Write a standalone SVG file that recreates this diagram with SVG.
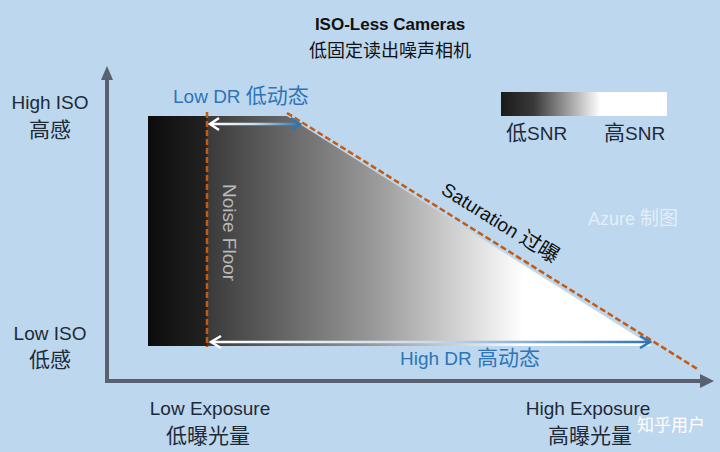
<svg xmlns="http://www.w3.org/2000/svg" width="720" height="452" viewBox="0 0 720 452">
<defs>
<style>
text{font-family:"Liberation Sans","Noto Sans CJK SC",sans-serif;}
.lbl{font-size:19px;fill:#1e2a38;}
.blue{font-size:19px;fill:#2e75b6;}
.cjk{font-size:21px;}
.axis{stroke:#596170;stroke-width:4;fill:none;}
.dash{stroke:#c55a11;stroke-width:2.5;stroke-dasharray:6 3;fill:none;}
</style>
<linearGradient id="gMain" gradientUnits="userSpaceOnUse" x1="148" y1="0" x2="655" y2="0">
<stop offset="0" stop-color="#0c0c0c"/>
<stop offset="0.115" stop-color="#222"/>
<stop offset="0.118" stop-color="#3a3a3a"/>
<stop offset="0.45" stop-color="#9a9a9a"/>
<stop offset="0.74" stop-color="#ffffff"/>
<stop offset="1" stop-color="#ffffff"/>
</linearGradient>
<linearGradient id="gLegend" x1="0" y1="0" x2="1" y2="0">
<stop offset="0" stop-color="#1a1a1a"/>
<stop offset="0.2" stop-color="#3a3a3a"/>
<stop offset="0.6" stop-color="#ffffff"/>
<stop offset="1" stop-color="#ffffff"/>
</linearGradient>
<linearGradient id="gArrow1" gradientUnits="userSpaceOnUse" x1="210" y1="0" x2="300" y2="0">
<stop offset="0" stop-color="#ffffff"/>
<stop offset="0.5" stop-color="#c8dcef"/>
<stop offset="1" stop-color="#2e75b6"/>
</linearGradient>
<linearGradient id="gArrow2" gradientUnits="userSpaceOnUse" x1="211" y1="0" x2="650" y2="0">
<stop offset="0" stop-color="#ffffff"/>
<stop offset="0.5" stop-color="#c8dcef"/>
<stop offset="1" stop-color="#2e75b6"/>
</linearGradient>
</defs>
<rect width="720" height="452" fill="#bdd7ee"/>

<g id="title">
<text x="390" y="30" text-anchor="middle" style="font-size:17px;font-weight:bold;fill:#111;">ISO-Less Cameras</text>
<text x="390" y="57" text-anchor="middle" style="font-size:18px;fill:#111;">低固定读出噪声相机</text>
</g>

<g id="exposure-area">
<polygon points="148,116 287,116 652,346 148,346" fill="url(#gMain)"/>
</g>

<g id="legend">
<rect x="501" y="92" width="166" height="24" fill="url(#gLegend)"/>
<text x="506" y="140" class="lbl"><tspan class="cjk">低</tspan>SNR</text>
<text x="604" y="140" class="lbl"><tspan class="cjk">高</tspan>SNR</text>
</g>

<g id="connectors">
<path class="axis" d="M107,381 V76"/>
<path d="M101,80 L107,66 L113,80 z" fill="#596170"/>
<path class="axis" d="M105,381 H702"/>
<path d="M700,374 L714,381 L700,388 z" fill="#596170"/>
<line class="dash" x1="207" y1="112" x2="207" y2="347"/>
<line class="dash" x1="287" y1="113" x2="699" y2="370"/>
<g id="low-dr-arrow">
<line x1="210" y1="124" x2="300" y2="124" stroke="url(#gArrow1)" stroke-width="2.5"/>
<path d="M219,118 L210,124 L219,130" fill="none" stroke="#ffffff" stroke-width="2.5"/>
<path d="M291,118 L300,124 L291,130" fill="none" stroke="#2e75b6" stroke-width="2.5"/>
</g>
<g id="high-dr-arrow">
<line x1="211" y1="342" x2="650" y2="342" stroke="url(#gArrow2)" stroke-width="2.5"/>
<path d="M221,336 L211,342 L221,348" fill="none" stroke="#ffffff" stroke-width="2.5"/>
<path d="M640,336 L650,342 L640,348" fill="none" stroke="#2e75b6" stroke-width="2.5"/>
</g>
</g>

<g id="labels">
<text x="173" y="103" class="blue">Low DR <tspan class="cjk">低动态</tspan></text>
<text x="470" y="365" text-anchor="middle" class="blue">High DR <tspan class="cjk">高动态</tspan></text>
<text x="50" y="109" text-anchor="middle" class="lbl">High ISO</text>
<text x="50" y="137" text-anchor="middle" class="lbl cjk">高感</text>
<text x="50" y="340" text-anchor="middle" class="lbl">Low ISO</text>
<text x="50" y="367" text-anchor="middle" class="lbl cjk">低感</text>
<text x="210" y="415" text-anchor="middle" class="lbl">Low Exposure</text>
<text x="208" y="443" text-anchor="middle" class="lbl cjk">低曝光量</text>
<text x="588" y="415" text-anchor="middle" class="lbl">High Exposure</text>
<text x="590" y="443" text-anchor="middle" class="lbl cjk">高曝光量</text>
<text transform="translate(223,184) rotate(90)" style="font-size:19px;fill:#b8b8b8;">Noise Floor</text>
<text transform="translate(440,193) rotate(32)" style="font-size:19px;fill:#111;">Saturation <tspan class="cjk">过曝</tspan></text>
<text x="588" y="225" style="font-size:18px;fill:#e4eef8;">Azure <tspan style="font-size:19px">制图</tspan></text>
<text x="637" y="431" style="font-size:17px;fill:#ffffff;">知乎用户</text>
</g>
</svg>
